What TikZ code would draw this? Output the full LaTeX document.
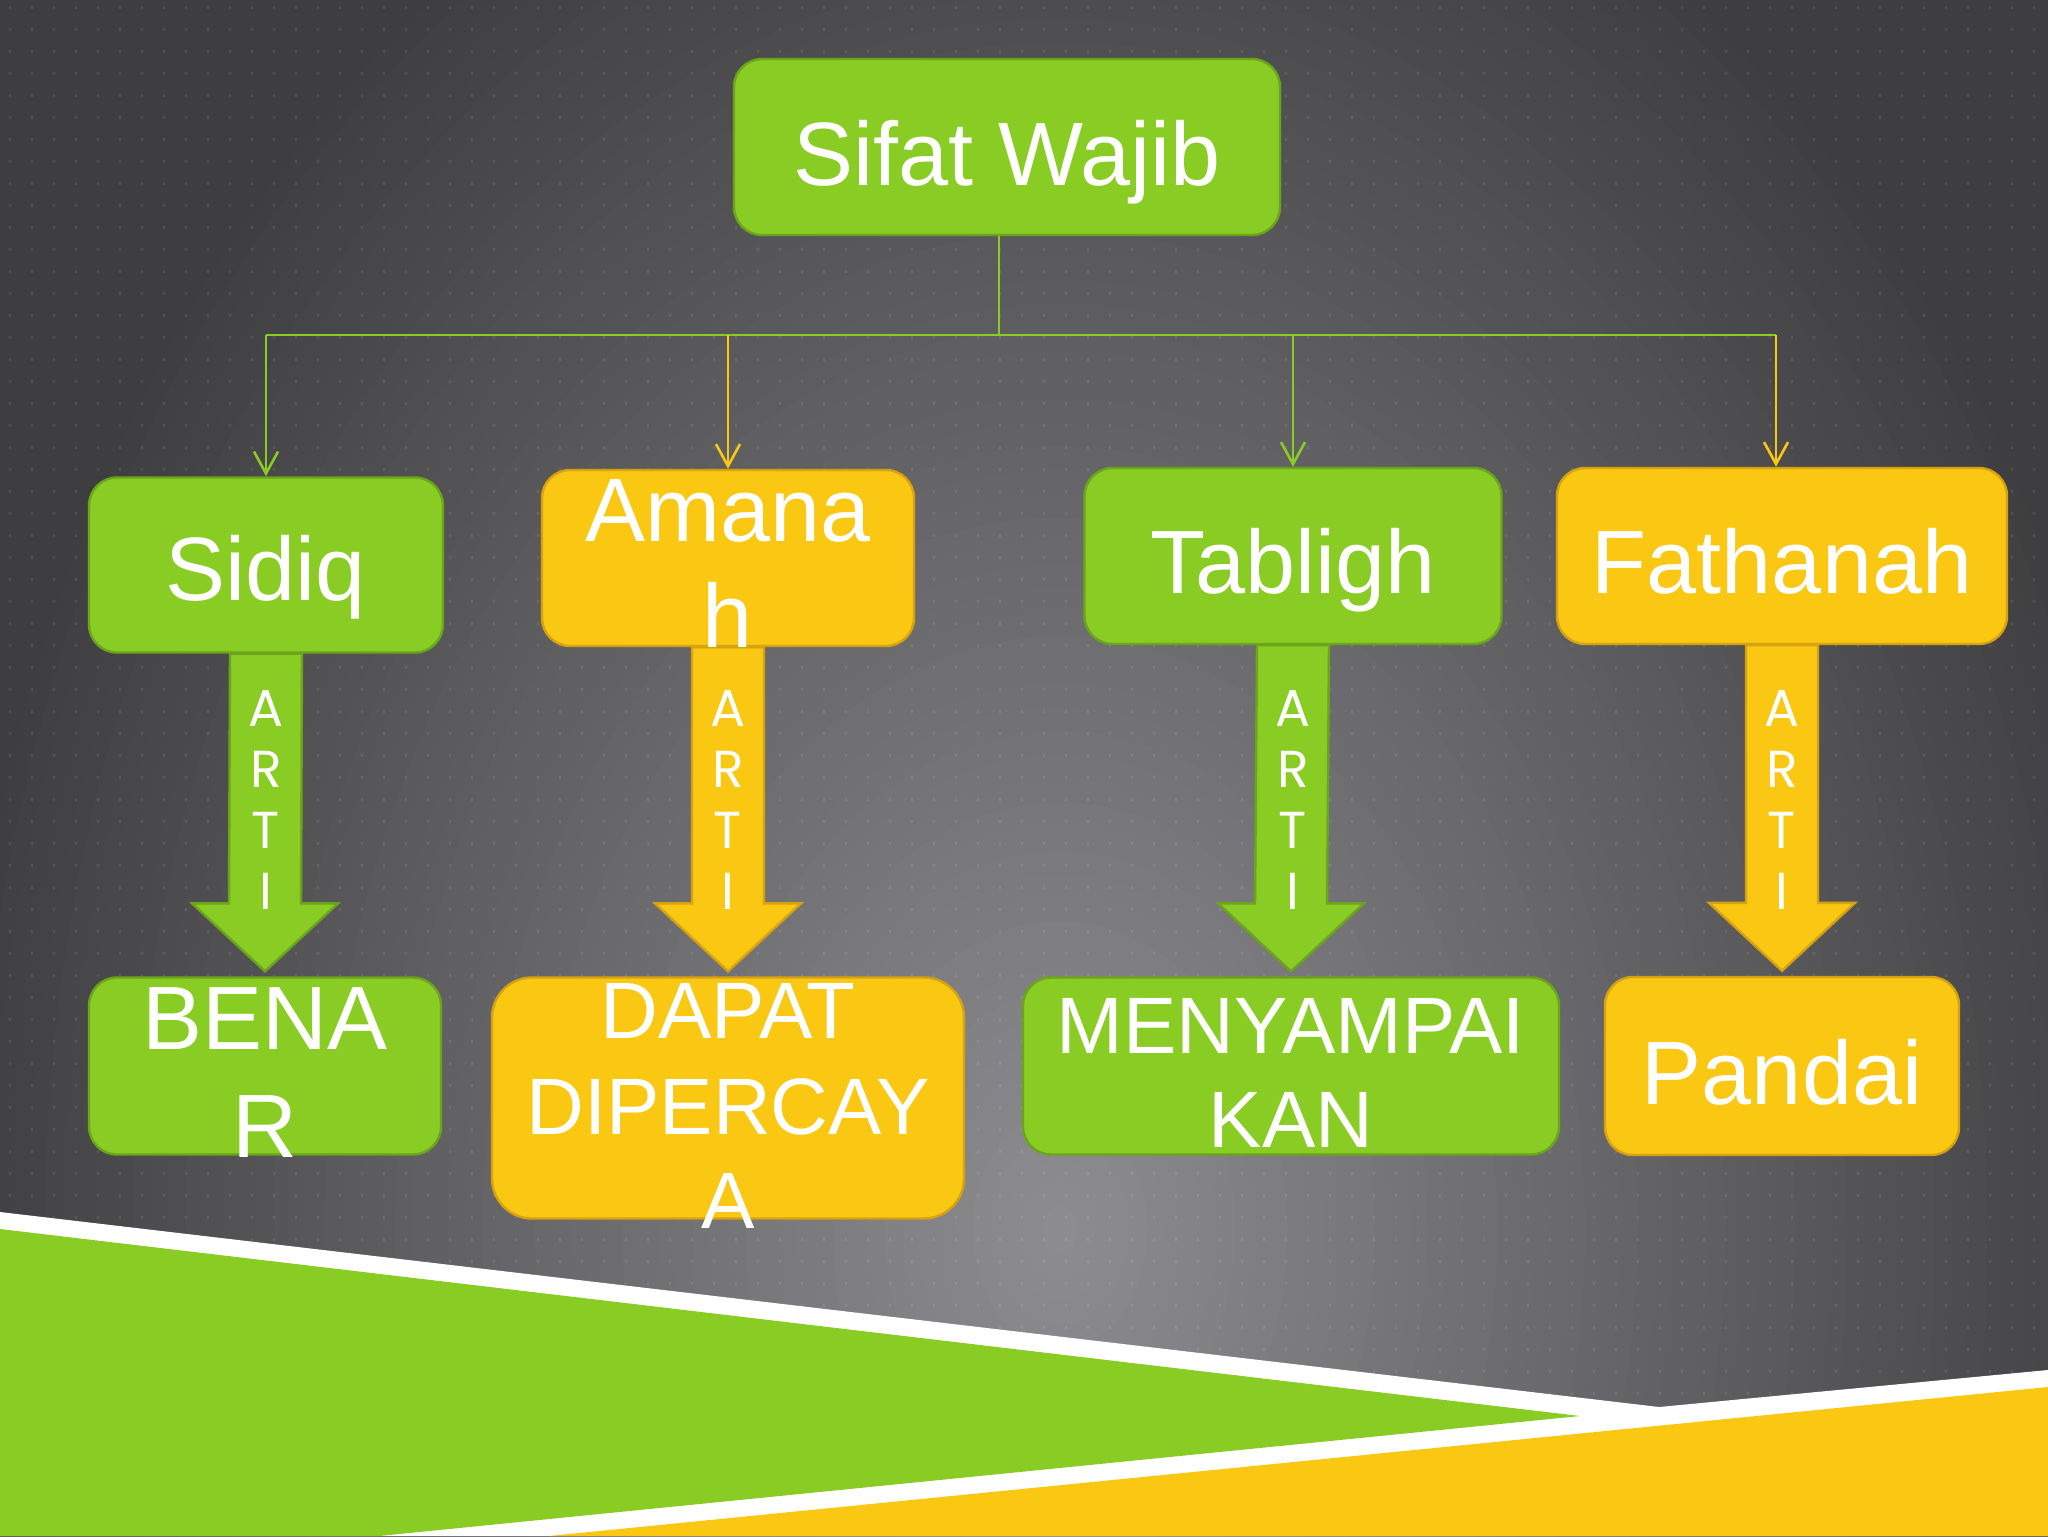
\documentclass[tikz,border=0pt]{standalone}
\usepackage{fontspec}
\setmainfont{Liberation Sans}
\newfontfamily\artifont{Poppins}
\usetikzlibrary{arrows.meta,calc,patterns}
\definecolor{gfill}{HTML}{89CC23}
\definecolor{gdraw}{HTML}{6CA41B}
\definecolor{yfill}{HTML}{FAC713}
\definecolor{ydraw}{HTML}{D6A20F}
\definecolor{bgin}{HTML}{8E8D91}
\definecolor{bgout}{HTML}{3E3E40}
\pgfdeclarepatternformonly{bgdots}{\pgfpointorigin}{\pgfpoint{10.8pt}{10.8pt}}{\pgfpoint{10.8pt}{10.8pt}}{%
  \pgfpathrectangle{\pgfpoint{4.5pt}{4.5pt}}{\pgfpoint{1.2pt}{1.5pt}}\pgfusepath{fill}}
\newcommand\blockarrow[3]{%
  \coordinate (#1-tip) at ($(#2.north)+(0,-5)$);
  \draw[#3] ($(#1.south)+(-36,0)$) -- ($(#1-tip)+(-36,-68)$) -- ($(#1-tip)+(-73,-68)$) -- (#1-tip)
     -- ($(#1-tip)+(73,-68)$) -- ($(#1-tip)+(36,-68)$) -- ($(#1.south)+(36,0)$) -- cycle;
  \foreach \lt/\yy [count=\kk] in {A/726,R/787,T/848,I/909}
    \node[artl] (#1-arti\kk) at (#1.south |- 0,\yy) {\lt};
}
\begin{document}
\begin{tikzpicture}[x=0.5pt,y=-0.5pt,
  box/.style={rectangle, rounded corners=14pt, line width=1.2pt, inner sep=0pt},
  gbox/.style={box, fill=gfill, draw=gdraw},
  ybox/.style={box, fill=yfill, draw=ydraw},
  lbl/.style={text=white, inner sep=0pt, anchor=base},
  bigtxt/.style={lbl, font=\fontsize{45pt}{54pt}\selectfont},
  midtxt/.style={lbl, font=\fontsize{40pt}{48pt}\selectfont},
  artl/.style={lbl, font=\artifont\fontsize{26pt}{30pt}\selectfont},
  gline/.style={draw=gfill, line width=1.3pt},
  yline/.style={draw=yfill, line width=1.3pt},
  barb/.style={-{Straight Barb[length=11pt,width=12pt]}},
  gblock/.style={fill=gfill, draw=gdraw, line width=1.2pt},
  yblock/.style={fill=yfill, draw=ydraw, line width=1.2pt},
]
\useasboundingbox (0,0) rectangle (2048,1536);
% background: radial gradient built from concentric ellipses
\begin{scope}
  \clip (0,0) rectangle (2048,1536);
  \fill[bgout] (0,0) rectangle (2048,1536);
  \foreach \k in {64,63,...,1}{
    \pgfmathsetmacro\pc{100*\k/64}
    \fill[bgout!\pc!bgin] (1060,1230) ellipse [x radius={8.75pt*\k}, y radius={11.875pt*\k}];
  }
  \fill[pattern=bgdots, pattern color=white, opacity=0.09] (0,0) rectangle (2048,1536);
\end{scope}
% bottom decoration
\fill[white] (0,1212) -- (1659,1407) -- (2048,1370) -- (2048,1536) -- (0,1536) -- cycle;
\fill[gfill] (0,1229) -- (1580,1416) -- (379,1536) -- (0,1536) -- cycle;
\fill[yfill] (549,1536) -- (2048,1387) -- (2048,1536) -- cycle;

% boxes
\node[gbox, minimum width=273pt, minimum height=88pt] (sifat) at (1007,147) {};
\node[gbox, minimum width=177pt, minimum height=87.5pt] (sidiq) at (266,565) {};
\node[ybox, minimum width=186pt, minimum height=88pt] (amanah) at (728,558) {};
\node[gbox, minimum width=208.5pt, minimum height=88pt] (tabligh) at (1293,556) {};
\node[ybox, minimum width=225pt, minimum height=88pt] (fathanah) at (1782,556) {};
\node[gbox, minimum width=176pt, minimum height=88.5pt] (benar) at (265,1066) {};
\node[ybox, minimum width=236pt, minimum height=120.5pt, rounded corners=20pt] (dapat) at (728,1098) {};
\node[gbox, minimum width=268pt, minimum height=88.5pt] (menyampaikan) at (1291,1066) {};
\node[ybox, minimum width=177pt, minimum height=89pt] (pandai) at (1782,1066) {};

% tree connectors
\coordinate (bar) at (999,335);
\coordinate (fdrop) at ($(fathanah.north)+(-6,0)$);
\draw[gline] (bar |- sifat.south) -- (bar);
\draw[gline] (sidiq.north |- bar) -- (fdrop |- bar);
\draw[gline, barb] (sidiq.north |- bar) -- (sidiq.north);
\draw[yline, barb] (amanah.north |- bar) -- (amanah.north);
\draw[gline, barb] (tabligh.north |- bar) -- (tabligh.north);
\draw[yline, barb] (fdrop |- bar) -- (fdrop);

% block arrows ARTI
\blockarrow{sidiq}{benar}{gblock}
\blockarrow{amanah}{dapat}{yblock}
\blockarrow{tabligh}{menyampaikan}{gblock}
\blockarrow{fathanah}{pandai}{yblock}

% texts
\node[bigtxt] (t-sifat) at (sifat.center |- 0,185) {Sifat Wajib};
\node[bigtxt] (t-sidiq) at (sidiq.center |- 0,600) {Sidiq};
\node[bigtxt] (t-amanah1) at (amanah.center |- 0,541) {Amana};
\node[bigtxt] (t-amanah2) at (amanah.center |- 0,647) {h};
\node[bigtxt] (t-tabligh) at (tabligh.center |- 0,593) {Tabligh};
\node[bigtxt] (t-fathanah) at (fathanah.center |- 0,593) {Fathanah};
\node[bigtxt] (t-benar1) at (benar.center |- 0,1049) {BENA};
\node[bigtxt] (t-benar2) at (benar.center |- 0,1157) {R};
\node[midtxt] (t-dapat1) at (dapat.center |- 0,1038) {DAPAT};
\node[midtxt] (t-dapat2) at (dapat.center |- 0,1134) {DIPERCAY};
\node[midtxt] (t-dapat3) at (dapat.center |- 0,1228) {A};
\node[midtxt] (t-meny1) at (menyampaikan.center |- 0,1053) {MENYAMPAI};
\node[midtxt] (t-meny2) at (menyampaikan.center |- 0,1147) {KAN};
\node[bigtxt] (t-pandai) at (pandai.center |- 0,1104) {Pandai};
\end{tikzpicture}
\end{document}
